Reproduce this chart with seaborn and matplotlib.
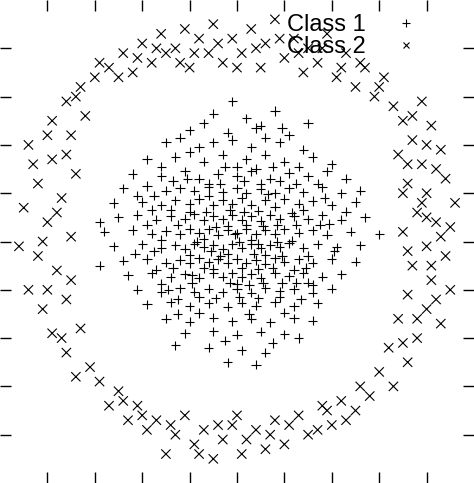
import numpy as np
import pandas as pd
import matplotlib
matplotlib.use("Agg")
import matplotlib.pyplot as plt
from matplotlib.lines import Line2D
import seaborn as sns

# Class 1: dense blob around the origin (approx.)
class1_pts = [
    (-0.5, 2.65), (0.2, 2.55), (0.8, 2.7), (-0.1, 2.9), (0.5, 2.4),
    (-1.0, 2.3), (-0.2, 2.25), (0.4, 2.35), (1.1, 2.2), (-0.7, 2.45), (1.5, 2.45),
    (-1.5, 2.05), (-0.8, 1.95), (-0.1, 2.1), (0.3, 1.95), (0.9, 2.05), (1.4, 1.9), (-1.2, 2.15), (0.6, 2.15),
    (-1.9, 1.7), (-1.3, 1.75), (-0.7, 1.65), (-0.3, 1.8), (0.2, 1.7), (0.6, 1.8), (1.0, 1.65), (1.6, 1.75), (2.0, 1.6),
    (-1.0, 1.85), (0.0, 1.55), (1.3, 1.55), (-1.6, 1.55), (0.4, 1.5),
    (-2.2, 1.4), (-1.6, 1.35), (-1.1, 1.45), (-0.8, 1.3), (-0.4, 1.4), (0.0, 1.35), (0.3, 1.45), (0.7, 1.3),
    (1.1, 1.42), (1.5, 1.35), (1.9, 1.45), (2.3, 1.3), (-1.35, 1.25), (-0.6, 1.2), (0.5, 1.2), (0.9, 1.25), (1.7, 1.2),
    (-2.4, 1.1), (-1.9, 1.15), (-1.5, 1.05), (-1.2, 1.1), (-0.9, 1.05), (-0.6, 1.12), (-0.3, 1.02), (0.0, 1.1),
    (0.2, 1.0), (0.5, 1.08), (0.8, 1.0), (1.1, 1.1), (1.4, 1.02), (1.8, 1.12), (2.2, 1.0), (-2.1, 0.95), (2.6, 1.05),
    (-2.6, 0.8), (-2.0, 0.82), (-1.6, 0.75), (-1.3, 0.85), (-1.0, 0.78), (-0.8, 0.88), (-0.5, 0.75), (-0.3, 0.85),
    (-0.1, 0.78), (0.1, 0.9), (0.3, 0.76), (0.6, 0.85), (0.8, 0.72), (1.0, 0.88), (1.3, 0.78), (1.6, 0.84),
    (2.0, 0.75), (2.5, 0.82), (-1.8, 0.65), (-0.65, 0.62), (0.45, 0.64), (1.15, 0.6), (2.3, 0.62),
    (-2.5, 0.5), (-2.1, 0.55), (-1.7, 0.45), (-1.4, 0.52), (-1.1, 0.47), (-0.9, 0.56), (-0.7, 0.44), (-0.5, 0.53),
    (-0.3, 0.46), (-0.1, 0.55), (0.1, 0.45), (0.3, 0.52), (0.5, 0.43), (0.7, 0.55), (0.9, 0.47), (1.2, 0.53),
    (1.5, 0.46), (1.8, 0.54), (2.2, 0.45), (2.7, 0.5), (-2.9, 0.4), (-1.25, 0.35), (-0.2, 0.33), (0.85, 0.34), (1.95, 0.36),
    (-2.8, 0.2), (-2.2, 0.24), (-1.8, 0.16), (-1.5, 0.22), (-1.2, 0.15), (-1.0, 0.26), (-0.8, 0.18), (-0.6, 0.25),
    (-0.4, 0.14), (-0.2, 0.23), (0.0, 0.17), (0.2, 0.26), (0.4, 0.15), (0.6, 0.24), (0.8, 0.16), (1.0, 0.25),
    (1.3, 0.18), (1.6, 0.23), (1.9, 0.14), (2.4, 0.2), (3.0, 0.15), (-0.7, 0.05), (0.3, 0.04), (1.15, 0.02), (-1.6, 0.03),
    (-2.6, -0.1), (-2.0, -0.06), (-1.6, -0.14), (-1.3, -0.08), (-1.1, -0.15), (-0.9, -0.05), (-0.7, -0.12), (-0.5, -0.07),
    (-0.3, -0.15), (-0.1, -0.06), (0.1, -0.13), (0.3, -0.05), (0.5, -0.14), (0.7, -0.07), (0.9, -0.12), (1.1, -0.04),
    (1.4, -0.13), (1.7, -0.06), (2.1, -0.12), (2.6, -0.08), (-0.2, -0.26), (0.6, -0.27), (-1.0, -0.28), (1.5, -0.3),
    (-2.4, -0.4), (-1.9, -0.36), (-1.5, -0.44), (-1.2, -0.38), (-1.0, -0.45), (-0.8, -0.35), (-0.6, -0.43), (-0.4, -0.37),
    (-0.2, -0.45), (0.0, -0.36), (0.2, -0.44), (0.4, -0.38), (0.6, -0.46), (0.8, -0.35), (1.0, -0.42), (1.3, -0.37),
    (1.6, -0.44), (2.0, -0.36), (2.5, -0.42), (-2.9, -0.5), (-0.5, -0.56), (0.45, -0.57), (1.2, -0.58), (-1.7, -0.58),
    (-2.3, -0.7), (-1.8, -0.66), (-1.4, -0.74), (-1.1, -0.68), (-0.8, -0.75), (-0.5, -0.65), (-0.3, -0.73), (-0.1, -0.66),
    (0.1, -0.74), (0.3, -0.67), (0.5, -0.75), (0.8, -0.66), (1.1, -0.72), (1.4, -0.65), (1.8, -0.73), (2.2, -0.68),
    (-0.95, -0.86), (0.0, -0.88), (0.95, -0.86), (1.6, -0.9), (-1.6, -0.88),
    (-2.1, -1.0), (-1.6, -1.05), (-1.2, -0.97), (-0.9, -1.04), (-0.6, -0.98), (-0.3, -1.05), (0.0, -0.98), (0.3, -1.06),
    (0.6, -0.97), (0.9, -1.03), (1.2, -0.99), (1.6, -1.06), (2.0, -0.98), (-0.45, -1.18), (0.45, -1.18), (1.35, -1.2),
    (-1.9, -1.3), (-1.4, -1.26), (-1.0, -1.34), (-0.6, -1.28), (-0.2, -1.35), (0.1, -1.27), (0.4, -1.33), (0.8, -1.26),
    (1.2, -1.34), (1.7, -1.28), (-0.8, -1.48), (0.25, -1.5), (1.0, -1.47), (-1.25, -1.5),
    (-1.5, -1.6), (-1.0, -1.66), (-0.5, -1.58), (-0.1, -1.65), (0.3, -1.6), (0.7, -1.67), (1.2, -1.59), (1.6, -1.64),
    (-1.1, -1.9), (-0.5, -1.86), (0.0, -1.93), (0.5, -1.87), (1.0, -1.92), (-0.25, -2.05), (0.75, -2.1),
    (-0.6, -2.2), (0.1, -2.25), (0.6, -2.3), (-0.2, -2.5), (0.4, -2.55), (-1.3, -2.15), (1.3, -2.0),
    # extra points in the dense core
    (-0.15, 0.65), (0.15, 0.62), (-0.45, 0.3), (0.55, 0.32), (-0.85, 0.0), (0.05, 0.0), (0.85, 0.0), (-0.35, -0.3),
    (0.35, -0.25), (-0.7, -0.55), (0.1, -0.55), (0.75, -0.55), (-0.15, -0.85), (0.55, -0.85), (-1.35, -0.55),
    (1.45, -0.55), (-1.4, 0.65), (1.4, 0.65), (-1.05, 1.3), (0.15, 1.25), (1.25, 1.2), (-0.25, 1.55), (0.75, 1.55),
    (-1.9, 0.35), (2.05, -0.2), (-2.15, -0.25), (1.75, 0.35), (-0.8, -1.15), (0.05, -1.15), (0.9, -1.15),
    (-1.45, -1.0), (1.5, -0.85), (-1.75, -0.2), (1.85, 0.9), (-1.75, 0.95), (-0.5, 2.05), (0.95, 2.35),
    (-0.35, 1.2), (0.65, 0.98), (-0.6, 0.95), (0.2, 0.35), (-0.05, 0.15), (0.45, -0.05), (-0.55, -0.2),
    (1.25, 0.35), (-1.0, 0.62), (0.95, -0.3), (-0.95, -0.7), (0.25, -0.9), (1.25, -0.85), (-1.25, -1.2),
]

# Class 2: ring around the blob
class2_pts = [
    (-3.6, 2.9), (-3.3, 3.2), (-3.0, 3.4), (-2.7, 3.6), (-2.4, 3.9), (-2.2, 3.5), (-2.0, 4.1), (-1.8, 3.7),
    (-1.6, 4.3), (-1.5, 3.9), (-1.3, 4.0), (-1.1, 4.4), (-1.0, 3.6), (-0.8, 4.2), (-0.6, 3.9), (-0.5, 4.5),
    (-0.3, 3.7), (-0.1, 4.2), (0.1, 3.9), (0.3, 4.4), (0.5, 3.6), (0.6, 4.1), (0.8, 4.6), (1.0, 3.8),
    (1.2, 4.2), (1.4, 3.5), (1.5, 4.0), (1.7, 3.7), (1.9, 4.3), (2.1, 3.4), (2.3, 3.9), (2.5, 3.2),
    (2.7, 3.6), (2.9, 3.0), (3.1, 3.4), (3.3, 2.8),
    (-3.4, 3.0), (-2.9, 3.7), (-2.5, 3.4), (-2.1, 3.8), (-1.7, 4.0), (-1.2, 3.7), (-0.9, 3.9), (-0.4, 4.1),
    (0.0, 3.6), (0.4, 4.0), (0.9, 4.2), (1.3, 3.9), (1.8, 4.0), (2.2, 3.6), (2.6, 3.7), (3.0, 3.2),
    (3.5, 2.5), (3.9, 2.9), (3.7, 2.1), (4.1, 2.4), (3.4, 1.8), (3.9, 1.6), (4.3, 1.9), (3.6, 1.2),
    (4.0, 1.0), (4.4, 1.3), (3.8, 0.6), (4.2, 0.4), (4.6, 0.8), (3.5, 0.2), (4.0, -0.1), (4.4, -0.3),
    (3.7, -0.5), (4.1, -0.8), (4.5, -1.0), (3.6, -1.1), (4.0, -1.4), (4.3, -1.7), (3.4, -1.6), (3.8, -2.0),
    (3.2, -2.2), (3.6, -2.5), (3.0, -2.7), (3.3, -3.0),
    (3.7, 2.6), (4.0, 2.0), (3.6, 1.6), (4.2, 1.5), (3.9, 0.8), (4.3, 0.1), (3.6, -0.2), (4.2, -1.2),
    (3.8, -1.6), (3.5, -2.1), (4.5, 0.3), (4.0, 0.5), (3.5, 1.0), (4.1, -0.5),
    (2.8, -3.2), (2.5, -3.5), (2.2, -3.3), (2.0, -3.8), (1.8, -3.4), (1.5, -4.0), (1.3, -3.6), (1.0, -4.2),
    (0.8, -3.7), (0.6, -4.3), (0.4, -3.9), (0.1, -4.4), (-0.1, -3.8), (-0.3, -4.1), (-0.5, -4.5), (-0.7, -3.9),
    (-0.9, -4.2), (-1.1, -3.6), (-1.3, -4.0), (-1.5, -4.4), (-1.7, -3.7), (-1.9, -3.9), (-2.1, -3.4), (-2.3, -3.7),
    (-2.5, -3.1), (-2.7, -3.4), (-2.9, -2.9),
    (2.6, -3.0), (2.3, -3.7), (1.7, -3.9), (1.1, -3.8), (0.7, -4.0), (0.2, -4.1), (-0.4, -3.8), (-0.8, -4.4),
    (-1.4, -3.8), (-2.0, -3.6), (-2.4, -3.3), (1.9, -3.5), (0.0, -3.6),
    (-3.1, -2.6), (-3.4, -2.8), (-3.6, -2.3), (-3.9, -1.9), (-3.3, -1.8), (-4.1, -1.4), (-3.6, -1.2), (-4.4, -1.0),
    (-3.8, -0.6), (-4.2, -0.3), (-4.6, -0.1), (-3.5, 0.1), (-4.0, 0.4), (-4.5, 0.7), (-3.7, 0.9), (-4.2, 1.2),
    (-3.4, 1.4), (-3.9, 1.7), (-4.4, 2.0), (-3.5, 2.2), (-3.9, 2.5), (-3.2, 2.6),
    (-3.7, -2.0), (-4.0, -1.0), (-3.5, -0.8), (-4.1, 0.0), (-3.8, 0.6), (-4.3, 1.6), (-3.6, 1.8), (-4.0, 2.2),
]

df = pd.DataFrame(
    [(x, y, "Class 1") for x, y in class1_pts] + [(x, y, "Class 2") for x, y in class2_pts],
    columns=["x", "y", "cls"],
)

sns.set_style("white")
plt.rcParams["font.family"] = ["Liberation Sans", "DejaVu Sans"]

fig = plt.figure(figsize=(4.74, 4.83), dpi=100)
ax = fig.add_axes([0, 0, 1, 1])
sns.scatterplot(
    data=df, x="x", y="y", style="cls", hue="cls",
    markers={"Class 1": "+", "Class 2": "x"},
    palette={"Class 1": "black", "Class 2": "black"},
    s=45, linewidth=0.8, ax=ax, legend=False,
)
ax.set_xlim(-5, 5)
ax.set_ylim(-5, 5)
ax.set_xticks(np.arange(-4, 5, 1))
ax.set_yticks(np.arange(-4, 5, 1))
ax.set_xticklabels([])
ax.set_yticklabels([])
ax.tick_params(direction="in", length=8, width=1, color="black",
               top=True, right=True, bottom=True, left=True)
for sp in ax.spines.values():
    sp.set_visible(False)
ax.set_xlabel("")
ax.set_ylabel("")

handles = [
    Line2D([], [], ls="none", marker="+", color="black", markersize=6, markeredgewidth=0.8, label="Class 1"),
    Line2D([], [], ls="none", marker="x", color="black", markersize=5, markeredgewidth=0.8, label="Class 2"),
]
ax.legend(
    handles=handles, loc="upper left", bbox_to_anchor=(0.585, 0.99), frameon=False,
    markerfirst=False, fontsize=17, handletextpad=0.7, labelspacing=0.0,
    labelcolor="black", borderaxespad=0,
)
fig.savefig("out.png", dpi=100)
